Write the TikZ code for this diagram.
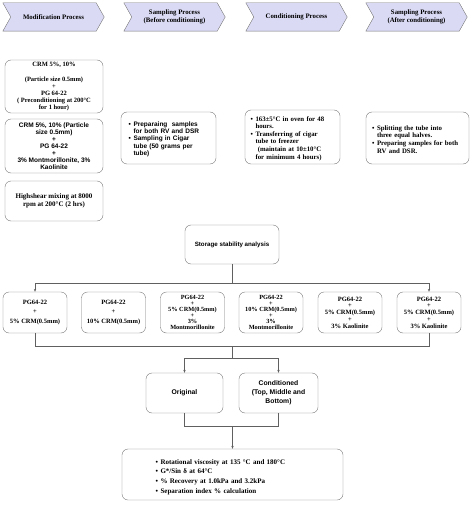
\documentclass[tikz,border=0pt]{standalone}
\usepackage{fontspec}
\setmainfont{Liberation Serif}
\newfontfamily\arialfont{Liberation Sans}
\usepackage{enumitem}
\setlist[itemize]{nosep,leftmargin=8pt,labelsep=2.5pt,label=\textbullet}
\usetikzlibrary{arrows.meta,backgrounds}
\definecolor{chevfill}{RGB}{218,218,245}
\definecolor{boxline}{RGB}{120,120,120}

\begin{document}
\begin{tikzpicture}[x=1pt,y=-1pt,
  chev/.style={minimum width=101pt, minimum height=28pt, inner sep=1pt,
    align=center, font=\fontsize{6.8}{8.5}\selectfont\bfseries},
  chevline/.style={draw=boxline, fill=chevfill, line join=round},
  rbox/.style={draw=boxline, rounded corners=6pt, fill=white, align=center,
    inner sep=1pt, font=\fontsize{6.5}{7}\selectfont\bfseries},
  sbox/.style={rbox, font=\fontsize{6.5}{7}\selectfont\bfseries\arialfont},
  rowbox/.style={rbox, minimum width=64pt, minimum height=41pt, inner sep=0.5pt,
    font=\fontsize{6.5}{6.8}\selectfont\bfseries},
  link/.style={draw=boxline!80!black, line width=0.5pt},
  tip/.style={link, -{Stealth[length=3pt,width=2.4pt]}}]
\useasboundingbox (0,0) rectangle (474,505);

% process headers
\node[chev] (mod) at (53.5,17) {Modification Process};
\node[chev] (sbef) at (174.5,17) {Sampling Process\\(Before conditioning)};
\node[chev] (cond) at (296.5,17) {Conditioning Process};
\node[chev] (saft) at (416.5,17) {Sampling Process\\(After conditioning)};
\begin{scope}[on background layer]
\foreach \c in {mod,sbef,cond,saft}
  \draw[chevline] (\c.north west) -- ([xshift=-8pt]\c.north east) -- (\c.east)
    -- ([xshift=-8pt]\c.south east) -- (\c.south west) -- ([xshift=8pt]\c.west) -- cycle;
\end{scope}

% modification column
\node[rbox, minimum width=98pt, minimum height=53pt] (crmA) at (54,86.5)
  {CRM 5\%, 10\%\\[8pt](Particle size 0.5mm)\\+\\PG 64-22\\( Preconditioning at 200°C\\for 1 hour)};
\node[sbox, minimum width=98pt, minimum height=54pt] (crmB) at (54,146)
  {CRM 5\%, 10\% (Particle\\size 0.5mm)\\+\\PG 64-22\\+\\3\% Montmorillonite, 3\%\\Kaolinite};
\node[rbox, minimum width=98pt, minimum height=40pt, font=\fontsize{7}{8}\selectfont\bfseries] (mix) at (54,201)
  {Highshear mixing at 8000\\rpm at 200°C (2 hrs)};

% sampling / conditioning boxes
\node[sbox, minimum width=95pt, minimum height=52pt, text width=86pt, align=left,
  font=\fontsize{6.5}{7.3}\selectfont\bfseries\arialfont] (prep) at (168.5,138)
  {\begin{itemize}\item Preparaing\ \ samples\\for both RV and DSR \item Sampling in Cigar\\tube (50 grams per\\tube)\end{itemize}};
\node[rbox, minimum width=95pt, minimum height=54pt, text width=90pt, align=left,
  font=\fontsize{6.8}{7.6}\selectfont\bfseries] (oven) at (292.5,137)
  {\begin{itemize}\item 163±5°C in oven for 48\\hours. \item Transferring of cigar\\tube to freezer\\\ (maintain at 10±10°C\\for minimum 4 hours)\end{itemize}};
\node[rbox, minimum width=103pt, minimum height=52pt, text width=97pt, align=left,
  font=\fontsize{6.8}{7.6}\selectfont\bfseries] (split) at (417.5,138)
  {\begin{itemize}\item Splitting the tube into\\three equal halves. \item Preparing samples for both\\RV and DSR.\end{itemize}};

% analysis
\node[sbox, minimum width=94pt, minimum height=39pt, font=\fontsize{6.2}{7}\selectfont\bfseries\arialfont] (ssa) at (232,244.5)
  {Storage stability analysis};

\node[rowbox] (b1) at (35,312.5) {PG64-22\\[2.5pt]+\\[2.5pt]5\% CRM(0.5mm)};
\node[rowbox] (b2) at (113.5,312.5) {PG64-22\\[2.5pt]+\\[2.5pt]10\% CRM(0.5mm)};
\node[rowbox, font=\fontsize{6.3}{5.9}\selectfont\bfseries] (b3) at (192.5,312.5) {PG64-22\\+\\5\% CRM(0.5mm)\\+\\3\%\\Montmorillonite};
\node[rowbox, font=\fontsize{6.3}{5.9}\selectfont\bfseries] (b4) at (271,312.5) {PG64-22\\+\\10\% CRM(0.5mm)\\+\\3\%\\Montmorillonite};
\node[rowbox] (b5) at (350,312.5) {PG64-22\\+\\5\% CRM(0.5mm)\\+\\3\% Kaolinite};
\node[rowbox] (b6) at (429,312.5) {PG64-22\\+\\5\% CRM(0.5mm)\\+\\3\% Kaolinite};

\node[sbox, minimum width=77pt, minimum height=40pt, font=\fontsize{6.8}{9}\selectfont\bfseries\arialfont] (orig) at (184.5,393) {Original};
\node[sbox, minimum width=79pt, minimum height=40pt, font=\fontsize{6.8}{9}\selectfont\bfseries\arialfont] (condd) at (278.5,393)
  {Conditioned\\(Top, Middle and\\Bottom)};

\node[rbox, minimum width=221pt, minimum height=51pt, text width=160pt, align=left,
  font=\fontsize{7}{9.7}\selectfont\bfseries] (tests) at (232.5,474.5)
  {\begin{itemize}\item Rotational viscosity at 135 °C and 180°C \item G*/Sin δ at 64°C
   \item \% Recovery at 1.0kPa and 3.2kPa \item Separation index \% calculation\end{itemize}};

% connectors
\draw[link] (ssa.south) -- ++(0,19) coordinate (top);
\draw[tip] (top) -| (b1.north);
\draw[tip] (top) -| (b6.north);
\draw[link] (b1.south) -- ++(0,13) coordinate (lowL) -| (b6.south);
\draw[link] (ssa.south |- lowL) -- ++(0,12) coordinate (fork);
\draw[tip] (fork) -| (orig.north);
\draw[tip] (fork) -| (condd.north);
\draw[link] (orig.south) -- ++(0,13) coordinate (lowO) -| (condd.south);
\draw[tip] (tests.north |- lowO) -- (tests.north);
\end{tikzpicture}
\end{document}
